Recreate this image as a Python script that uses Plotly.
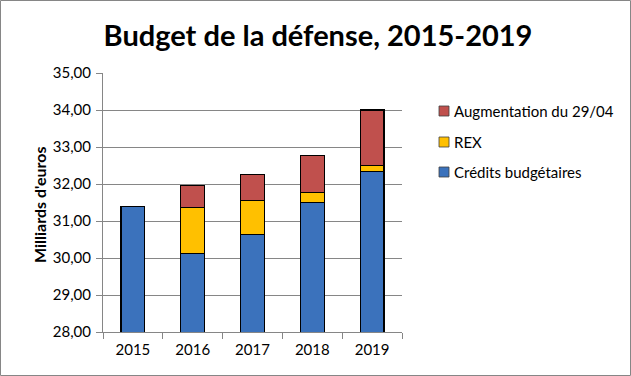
import plotly.graph_objects as go

years = ["2015", "2016", "2017", "2018", "2019"]
credits = [31.40, 30.13, 30.64, 31.50, 32.33]
rex = [0.0, 1.24, 0.92, 0.28, 0.17]
augmentation = [0.0, 0.59, 0.70, 0.99, 1.50]
y_ticks = [28, 29, 30, 31, 32, 33, 34, 35]
series_names = ["Crédits budgétaires", "REX", "Augmentation du 29/04"]

W, H = 631, 376
L, R, T, B = 103, 229, 73, 44
pw, ph = W - L - R, H - T - B

def px_x(x):
    return (x - L) / pw

def px_y(y):
    return (H - B - y) / ph

font = "Lato, Calibri, Carlito, sans-serif"
colors = ["#3B72BC", "#FFC000", "#C0504D"]

fig = go.Figure()
for name, vals, color in zip(series_names, [credits, rex, augmentation], colors):
    fig.add_trace(go.Bar(
        x=years, y=vals, name=name,
        marker=dict(color=color, line=dict(color="black", width=1.2)),
        showlegend=False,
    ))

shapes = [dict(type="rect", xref="paper", yref="paper",
               x0=px_x(0.5), x1=px_x(W - 0.5),
               y0=px_y(H - 0.5), y1=px_y(0.5),
               line=dict(color="#868686", width=1), layer="below")]
annotations = []
# manual legend (top-to-bottom: Augmentation, REX, Crédits)
legend_rows = [(111, 2), (142, 1), (172, 0)]
for cy, idx in legend_rows:
    shapes.append(dict(type="rect", xref="paper", yref="paper",
                       x0=px_x(439), x1=px_x(449), y0=px_y(cy + 5), y1=px_y(cy - 5),
                       fillcolor=colors[idx], line=dict(color="#404040", width=0.8)))
    annotations.append(dict(x=px_x(452), y=px_y(cy), xref="paper", yref="paper",
                            text=series_names[idx], showarrow=False,
                            xanchor="left", yanchor="middle",
                            font=dict(size=15, family=font, color="black")))
annotations.append(dict(x=px_x(39), y=px_y(205), xref="paper", yref="paper",
                        text="<b>Milliards d'euros</b>", showarrow=False, textangle=-90,
                        xanchor="center", yanchor="middle",
                        font=dict(size=16, family=font, color="black")))

fig.update_layout(
    width=W, height=H,
    margin=dict(l=L, r=R, t=T, b=B),
    barmode="stack", bargap=0.6,
    paper_bgcolor="white", plot_bgcolor="white",
    separators=", ",
    font=dict(family=font, size=15, color="black"),
    title=dict(text="<b>Budget de la défense, 2015-2019</b>", x=(318) / W, xanchor="center",
               y=1 - 36 / H, yanchor="middle", font=dict(size=29, family=font)),
    showlegend=False,
    shapes=shapes,
    annotations=annotations,
)
fig.update_yaxes(range=[28, 35], tickvals=y_ticks, tickformat=".2f",
                 showgrid=True, gridcolor="#868686", gridwidth=1,
                 showline=True, linecolor="#868686", ticks="outside", ticklen=6,
                 tickcolor="#868686", zeroline=False, ticklabelstandoff=2)
fig.update_xaxes(showline=True, linecolor="#868686", ticks="outside", ticklen=6,
                 tickcolor="#868686", tickson="boundaries", showgrid=False,
                 ticklabelstandoff=4)

fig.write_html("out.html", config={"displayModeBar": False},
               post_script="document.body.style.margin='0';document.body.style.overflow='hidden';")
